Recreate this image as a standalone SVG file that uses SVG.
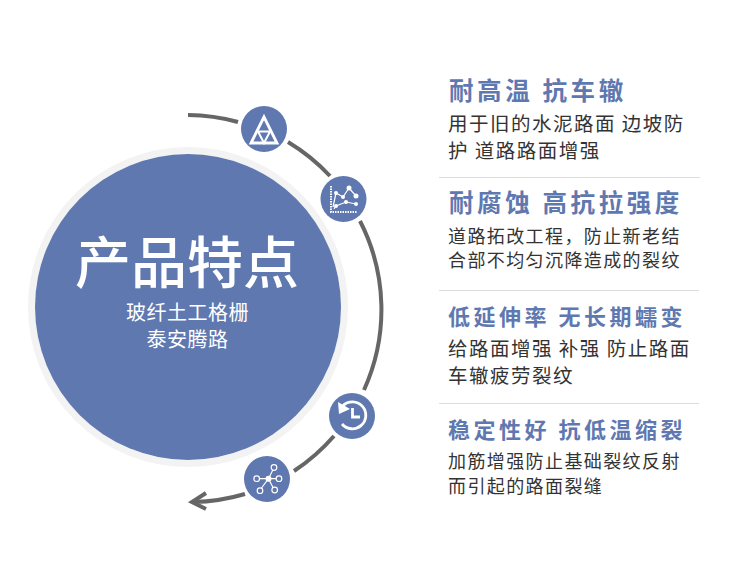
<svg xmlns="http://www.w3.org/2000/svg" width="751" height="572" viewBox="0 0 751 572">
<style>
text{font-family:"Noto Sans CJK SC","Liberation Sans",sans-serif}
.b{fill:#5f78b0}
.i{fill:none;stroke:#fff;stroke-width:2}
.i1{fill:none;stroke:#fff;stroke-width:1.200}
.i3{fill:none;stroke:#fff;stroke-width:2.800}
.f{fill:#fff}
.t1{font-size:24.5px;font-weight:700;fill:#5f78b0;letter-spacing:3.600px}
.t2{font-size:22px;font-weight:700;fill:#5f78b0;letter-spacing:3.500px}
.d{font-size:19.500px;fill:#333;letter-spacing:1.500px}
.d2{font-size:18px;fill:#333;letter-spacing:1.400px}
.s{stroke:#666;stroke-width:4;fill:none}
.r{stroke:#ddd;stroke-width:1}
.sub{font-size:20px;fill:#fff;letter-spacing:.5px}
</style>
<rect width="751" height="572" fill="#fff"/>
<g id="connectors">
<path class="s" d="M188 115A194 194 0 0 1 238 122"/>
<path class="s" d="M288 142A194 194 0 0 1 330 176"/>
<path class="s" d="M360 221A194 194 0 0 1 364 390"/>
<path class="s" d="M334 436A194 194 0 0 1 294 471"/>
<path class="s" d="M245 494A194 194 0 0 1 193 502"/>
<path class="s" d="M206 493L192 502L206 509"/>
</g>
<g id="center">
<circle cx="188" cy="307" r="156.500" fill="none" stroke="#f3f3f3" stroke-width="7"/>
<circle cx="188" cy="307" r="153" class="b"/>
<text x="187" y="283" text-anchor="middle" font-size="56" font-weight="500" fill="#fff">产品特点</text>
<text x="187.500" y="320" text-anchor="middle" class="sub">玻纤土工格栅</text>
<text x="187.500" y="347" text-anchor="middle" class="sub">泰安腾路</text>
</g>
<g id="node-triangle">
<circle cx="264" cy="129" r="23" class="b"/>
<path class="i3" d="M264 117L251 143H277Z"/>
<path class="i" d="M258 131.500H270L264 143Z"/>
</g>
<g id="node-chart">
<circle cx="343.500" cy="199" r="23" class="b"/>
<path class="i" stroke-dasharray="1.500 1" d="M331 186V212H357"/>
<path class="i1" d="M333 207L336 193L343 197L349 188L356 196M334 209L336 206L346 202L356 204"/>
<g class="f"><circle cx="336" cy="193" r="2"/><circle cx="343" cy="197" r="2"/><circle cx="349" cy="188" r="2.500"/><circle cx="356" cy="196" r="2.500"/><circle cx="336" cy="206" r="2"/><circle cx="346" cy="202" r="2"/><circle cx="356" cy="204" r="2"/></g>
</g>
<g id="node-history">
<circle cx="352" cy="416" r="23" class="b"/>
<path class="i3" d="M343 405.500A13.500 13.500 0 1 1 342 424"/>
<path class="f" d="M338 402L339 414L350 409Z"/>
<path class="i3" d="M352.500 408V417H360"/>
</g>
<g id="node-network">
<circle cx="267" cy="479" r="23" class="b"/>
<path class="i1" d="M268.500 478.700L272.800 470M268.500 478.700H276M268.500 478.700L273 487.500M268.500 478.700L261.500 488M268.500 478.700H260"/>
<circle cx="268.500" cy="478.700" r="3" class="f"/>
<g class="i1"><circle cx="274" cy="467.500" r="2.800"/><circle cx="279" cy="478.700" r="2.800"/><circle cx="274.700" cy="490" r="2.800"/><circle cx="260" cy="490.700" r="2.800"/><circle cx="256.700" cy="478.700" r="2.800"/></g>
</g>
<g id="item-1">
<text x="449" y="100" class="t1" xml:space="preserve">耐高温 抗车辙</text>
<text x="448" y="131" class="d">用于旧的水泥路面 边坡防</text>
<text x="448" y="158" class="d">护 道路路面增强</text>
<line class="r" x1="439" y1="177.500" x2="700" y2="177.500"/>
</g>
<g id="item-2">
<text x="449" y="212" class="t1" xml:space="preserve">耐腐蚀 高抗拉强度</text>
<text x="448" y="243" class="d2">道路拓改工程，防止新老结</text>
<text x="448" y="267" class="d2">合部不均匀沉降造成的裂纹</text>
<line class="r" x1="439" y1="290.500" x2="699" y2="290.500"/>
</g>
<g id="item-3">
<text x="448" y="325" class="t2" xml:space="preserve">低延伸率 无长期蠕变</text>
<text x="448" y="356" class="d">给路面增强 补强 防止路面</text>
<text x="448" y="383" class="d">车辙疲劳裂纹</text>
<line class="r" x1="439" y1="403.500" x2="699" y2="403.500"/>
</g>
<g id="item-4">
<text x="448" y="438" class="t2" xml:space="preserve">稳定性好 抗低温缩裂</text>
<text x="448" y="468" class="d2">加筋增强防止基础裂纹反射</text>
<text x="448" y="493" class="d2">而引起的路面裂缝</text>
</g>
</svg>
